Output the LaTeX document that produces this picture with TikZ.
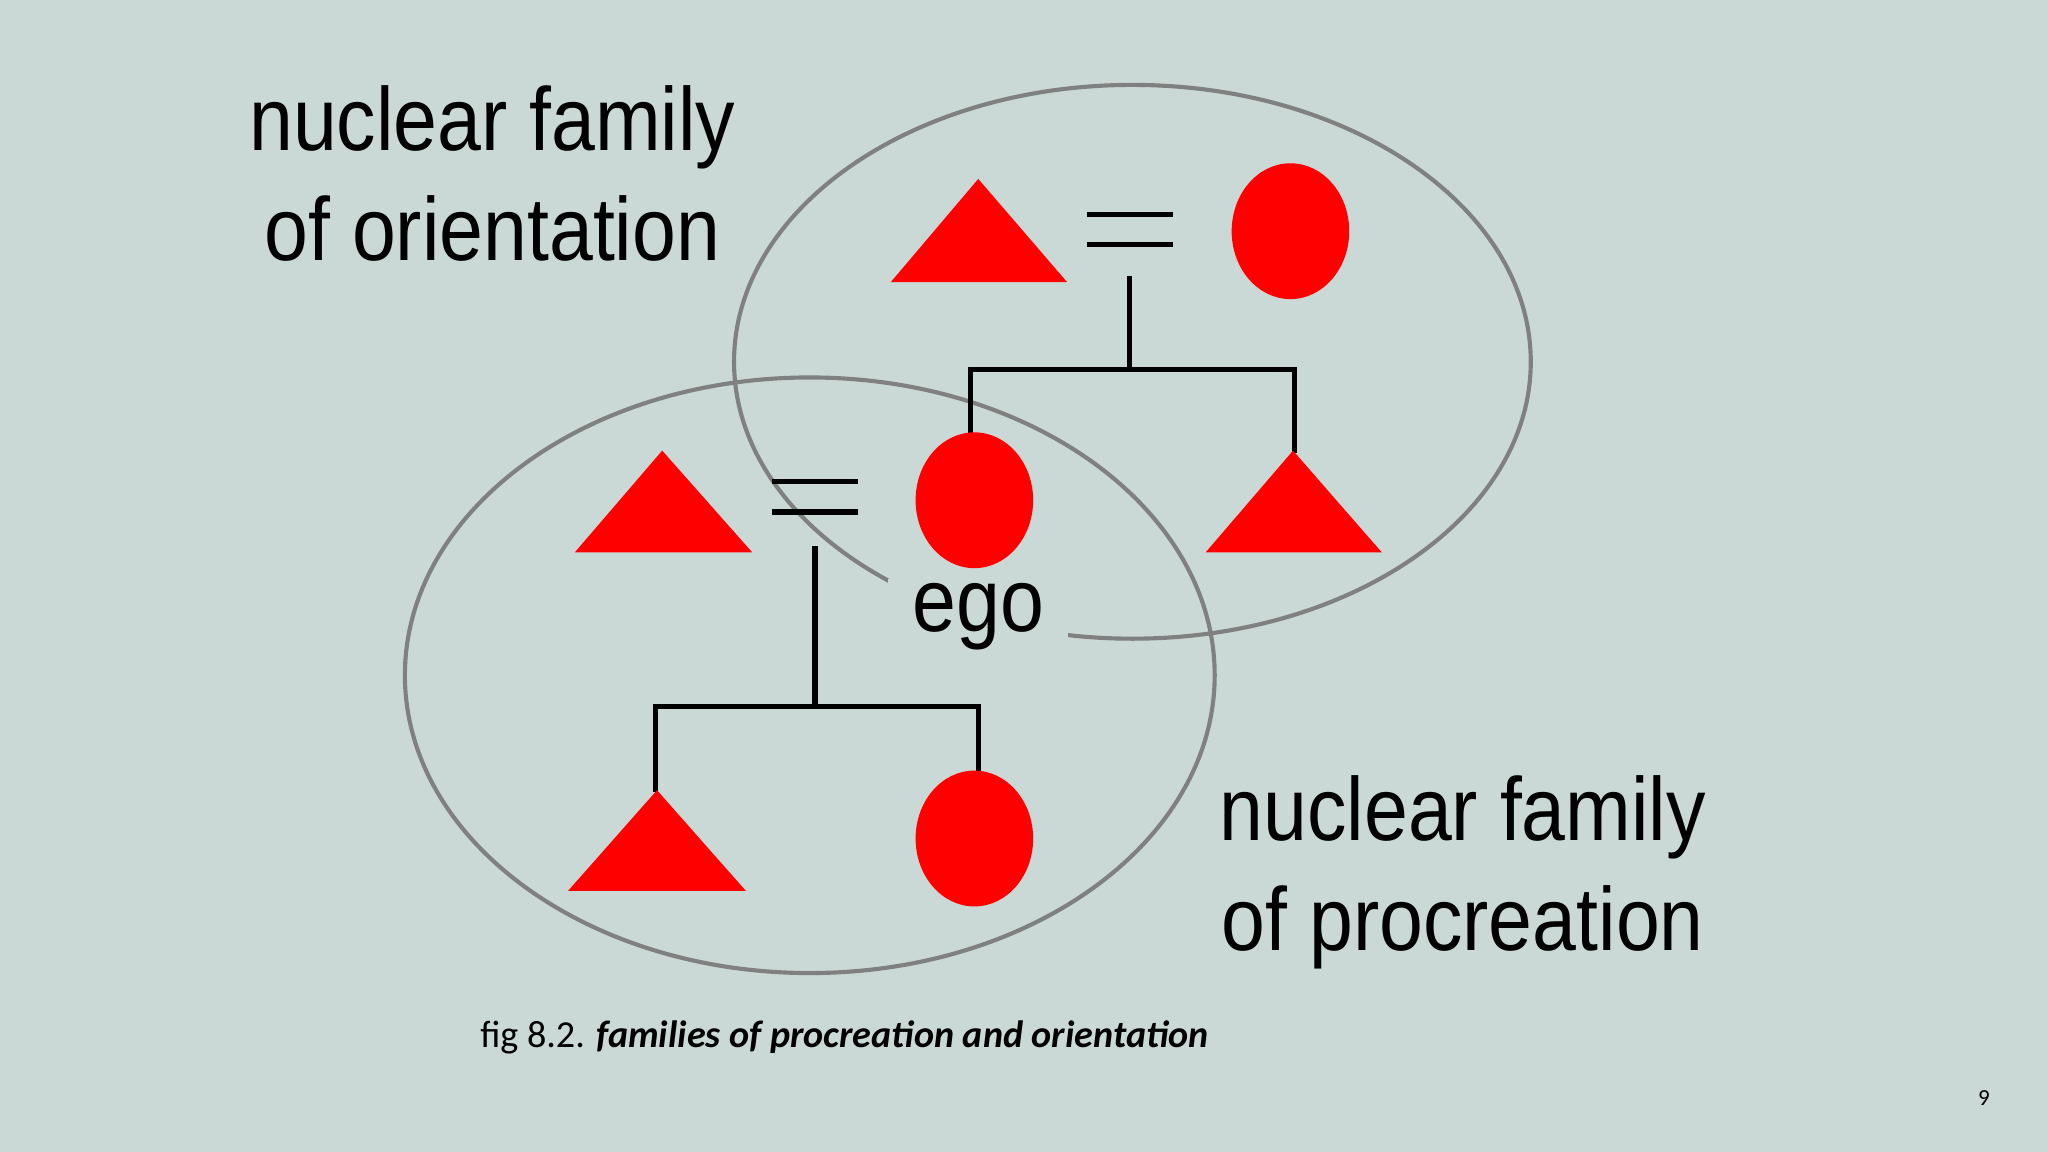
\documentclass[tikz,border=0pt]{standalone}
\usepackage{fontspec}
\setmainfont{Liberation Sans}
\newfontfamily\capfont{Carlito}
\definecolor{bg}{HTML}{CAD9D5}
\definecolor{ell}{HTML}{808080}
\definecolor{kred}{HTML}{FF0000}
\begin{document}
\begin{tikzpicture}[x=0.01cm,y=-0.01cm,
  ellline/.style={draw=ell,line width=0.9pt},
  kin/.style={line width=1.1pt,black},
  big/.style={font=\fontsize{19.5}{24}\selectfont,xscale=0.88,align=center,inner sep=0pt},
]
\fill[bg] (0,0) rectangle (1568,882);
\useasboundingbox (0,0) rectangle (1568,882);
% ellipses
\draw[ellline] (867,277) ellipse [x radius=305, y radius=212];
\draw[ellline] (620,517) ellipse [x radius=310, y radius=228];
% ego label background (drawn before shapes so it does not cover the circle)
\node[big,fill=bg,inner xsep=6pt,inner ysep=1pt] (egot) at (749,472) {ego};
% upper generation
\fill[kred] (749,137) -- (817,216) -- (682,216) -- cycle;
\fill[kred] (988,177) ellipse [x radius=45, y radius=52];
\coordinate (eq1a) at (832,164); \coordinate (eq1b) at (898,164);
\coordinate (eq1c) at (832,187); \coordinate (eq1d) at (898,187);
\draw[kin] (eq1a) -- (eq1b); \draw[kin] (eq1c) -- (eq1d);
\coordinate (d1) at (865,211); \coordinate (b1) at (865,283);
\coordinate (b1l) at (743,283); \coordinate (b1r) at (991,283);
\coordinate (ego) at (743,334); \coordinate (sib) at (991,347);
\draw[kin] (d1) -- (b1); \draw[kin] (ego) -- (b1l) -- (b1r) -- (sib);
% middle generation
\fill[kred] (746,383) ellipse [x radius=45, y radius=52];
\fill[kred] (990,345) -- (1058,423) -- (923,423) -- cycle;
\fill[kred] (507,345) -- (576,423) -- (440,423) -- cycle;
\coordinate (eq2a) at (591,369); \coordinate (eq2b) at (657,369);
\coordinate (eq2c) at (591,392); \coordinate (eq2d) at (657,392);
\draw[kin] (eq2a) -- (eq2b); \draw[kin] (eq2c) -- (eq2d);
\coordinate (d2) at (624,418); \coordinate (b2) at (624,541);
\coordinate (b2l) at (502,541); \coordinate (b2r) at (749,541);
\coordinate (son) at (502,606); \coordinate (dau) at (749,592);
\draw[kin] (d2) -- (b2); \draw[kin] (son) -- (b2l) -- (b2r) -- (dau);
% lower generation
\fill[kred] (503,605) -- (571,682) -- (435,682) -- cycle;
\fill[kred] (746,642) ellipse [x radius=45, y radius=52];
% texts
\node[big] (orient) at (377,133) {nuclear family\\of orientation};
\node[big] (procr) at (1120,668) {nuclear family\\of procreation};
\node[font=\capfont\fontsize{8.3}{10}\selectfont,anchor=west,inner sep=0pt] (cap) at (367,794) {fig 8.2. \textbf{\textit{families of procreation and orientation}}};
\node[font=\capfont\fontsize{5}{6}\selectfont,inner sep=0pt] (pg) at (1519,841) {9};
\end{tikzpicture}
\end{document}
